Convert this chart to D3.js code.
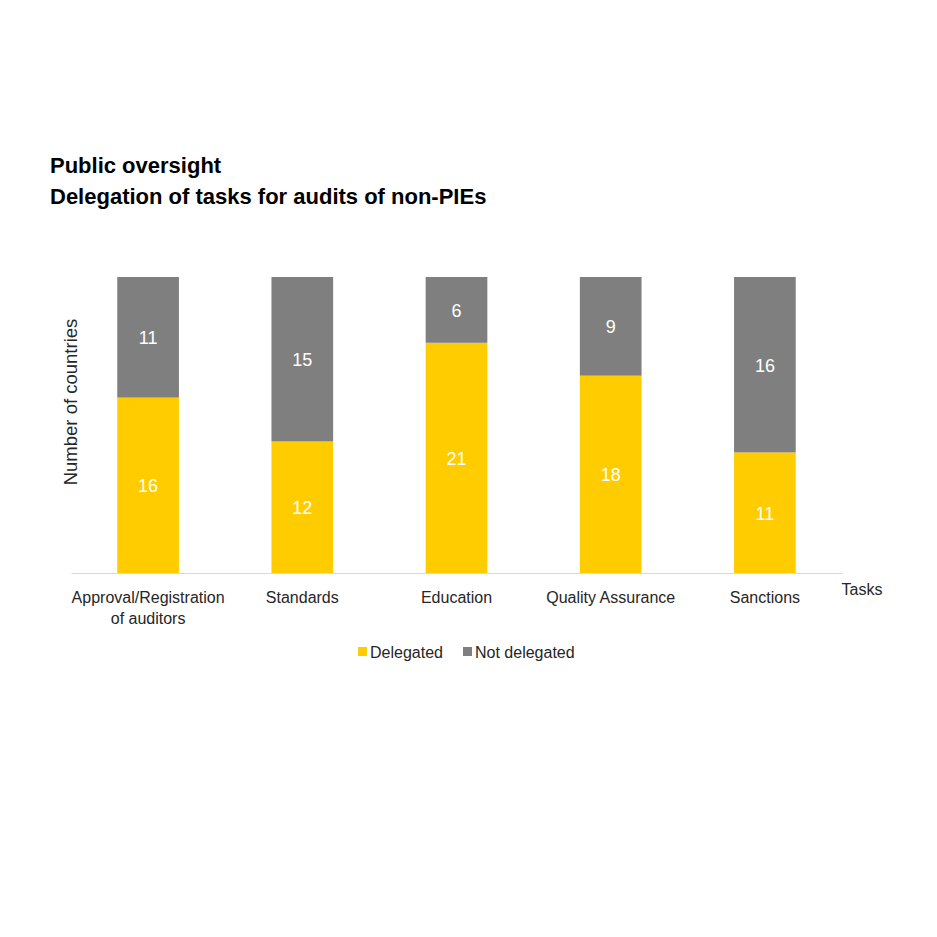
<!DOCTYPE html>
<html>
<head>
<meta charset="utf-8">
<script src="https://cdn.jsdelivr.net/npm/d3@7"></script>
<style>
  body { margin: 0; background: #fff; }
  text { font-family: "Liberation Sans", Arial, sans-serif; }
</style>
</head>
<body>
<svg id="chart"></svg>
<script>
// chart data
const tasks = ["Approval/Registration\nof auditors", "Standards", "Education", "Quality Assurance", "Sanctions"];
const delegated = [16, 12, 21, 18, 11];
const notDelegated = [11, 15, 6, 9, 16];
const seriesNames = ["Delegated", "Not delegated"];
const seriesColors = ["#ffcc00", "#7f7f7f"];

const W = 937, H = 937;
const margin = { left: 71, right: 95, top: 277, bottom: 364 };

const svg = d3.select('#chart')
  .attr('width', W)
  .attr('height', H);

svg.append('rect').attr('width', W).attr('height', H).attr('fill', '#fff');

// titles
svg.append('text')
  .attr('x', 50).attr('y', 173)
  .attr('font-size', '22px').attr('font-weight', 'bold')
  .attr('fill', '#000')
  .text('Public oversight');
svg.append('text')
  .attr('x', 50).attr('y', 204)
  .attr('font-size', '22px').attr('font-weight', 'bold')
  .attr('fill', '#000')
  .text('Delegation of tasks for audits of non-PIEs');

const rows = tasks.map((t, i) => ({ task: t, Delegated: delegated[i], 'Not delegated': notDelegated[i] }));
const stacked = d3.stack().keys(seriesNames)(rows);

const x = d3.scaleBand()
  .domain(tasks)
  .range([margin.left, W - margin.right])
  .paddingInner(0.6)
  .paddingOuter(0.3);

const y = d3.scaleLinear()
  .domain([0, 27])
  .range([H - margin.bottom, margin.top]);

// bars
const layers = svg.append('g').selectAll('g')
  .data(stacked)
  .join('g')
  .attr('fill', (d, i) => seriesColors[i]);

layers.selectAll('rect')
  .data(d => d)
  .join('rect')
  .attr('x', d => x(d.data.task))
  .attr('y', d => y(d[1]))
  .attr('width', x.bandwidth())
  .attr('height', d => y(d[0]) - y(d[1]));

// value labels
layers.selectAll('text')
  .data(d => d)
  .join('text')
  .attr('x', d => x(d.data.task) + x.bandwidth() / 2)
  .attr('y', d => (y(d[0]) + y(d[1])) / 2 + 7)
  .attr('text-anchor', 'middle')
  .attr('font-size', '18px')
  .attr('fill', '#fff')
  .text(d => d[1] - d[0]);

// x axis
const xAxisG = svg.append('g')
  .attr('transform', `translate(0,${y(0)})`)
  .call(d3.axisBottom(x).tickSize(0).tickFormat(''));
xAxisG.select('.domain').attr('stroke', '#d9d9d9').attr('stroke-width', 1.2);

xAxisG.selectAll('.tick').each(function(d) {
  const lines = d.split('\n');
  const t = d3.select(this).append('text')
    .attr('text-anchor', 'middle')
    .attr('font-size', '16px')
    .attr('fill', '#262626');
  lines.forEach((l, i) => {
    t.append('tspan').attr('x', 0).attr('y', 30 + i * 21).text(l);
  });
});

// axis titles
svg.append('text')
  .attr('x', 862).attr('y', 595)
  .attr('text-anchor', 'middle')
  .attr('font-size', '16px')
  .attr('fill', '#262626')
  .text('Tasks');

svg.append('text')
  .attr('transform', 'translate(77,402) rotate(-90)')
  .attr('text-anchor', 'middle')
  .attr('font-size', '18.5px')
  .attr('fill', '#262626')
  .text('Number of countries');

// legend
const legend = svg.append('g').attr('transform', 'translate(358,647)');
const legendX = [0, 105];
seriesNames.forEach((name, i) => {
  const g = legend.append('g').attr('transform', `translate(${legendX[i]},0)`);
  g.append('rect').attr('width', 9).attr('height', 9).attr('fill', seriesColors[i]);
  g.append('text').attr('x', 12).attr('y', 11)
    .attr('font-size', '16px').attr('fill', '#262626')
    .text(name);
});
</script>
</body>
</html>
